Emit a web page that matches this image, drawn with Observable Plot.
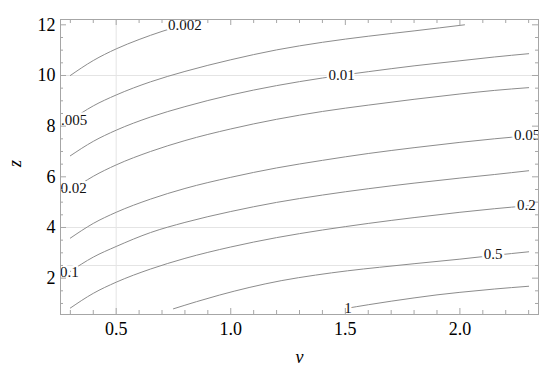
<!DOCTYPE html>
<html>
<head>
<meta charset="utf-8">
<script src="https://cdn.jsdelivr.net/npm/d3@7"></script>
<script src="https://cdn.jsdelivr.net/npm/@observablehq/plot@0.6"></script>
<style>
  html, body { margin: 0; padding: 0; background: #fff; }
  svg text { font-family: "Liberation Serif", "Times New Roman", serif !important; }
</style>
</head>
<body>
<div id="chart"></div>
<script>
// Contour levels
const levels = ["0.002", "0.005", "0.01", "0.02", "0.05", "0.1", "0.2", "0.5", "1"];

// Contour lines (ν, z)
const nu_0002 = [0.30, 0.40, 0.50, 0.60, 0.70, 0.79];
const z_0002  = [10.00, 10.59, 11.05, 11.42, 11.74, 11.99];

const nuGrid = [0.30, 0.40, 0.50, 0.65, 0.80, 1.00, 1.20, 1.40, 1.60, 1.80, 2.00, 2.15, 2.30];

const nu_0005 = [0.30, 0.40, 0.50, 0.65, 0.80, 1.00, 1.20, 1.40, 1.60, 1.80, 2.02];
const z_0005  = [8.23, 8.80, 9.23, 9.75, 10.16, 10.62, 11.01, 11.31, 11.55, 11.76, 12.00];

const z_001 = [6.83, 7.40, 7.84, 8.36, 8.77, 9.23, 9.60, 9.90, 10.15, 10.38, 10.58, 10.73, 10.86];
const z_002 = [5.44, 6.02, 6.47, 7.00, 7.43, 7.89, 8.27, 8.58, 8.83, 9.06, 9.27, 9.41, 9.52];
const z_005 = [3.58, 4.16, 4.60, 5.12, 5.54, 5.98, 6.35, 6.65, 6.92, 7.15, 7.36, 7.50, 7.62];
const z_01  = [2.27, 2.83, 3.25, 3.80, 4.20, 4.63, 4.99, 5.28, 5.53, 5.75, 5.95, 6.09, 6.24];
const z_02  = [0.82, 1.40, 1.84, 2.36, 2.78, 3.23, 3.60, 3.90, 4.16, 4.39, 4.60, 4.74, 4.86];

const nu_05 = [0.75, 0.85, 0.95, 1.08, 1.22, 1.37, 1.51, 1.65, 1.80, 2.00, 2.15, 2.30];
const z_05  = [0.79, 1.07, 1.33, 1.63, 1.90, 2.12, 2.29, 2.43, 2.57, 2.75, 2.90, 3.04];

const nu_1 = [1.50, 1.60, 1.70, 1.80, 1.90, 2.00, 2.15, 2.30];
const z_1  = [0.80, 0.95, 1.09, 1.22, 1.34, 1.44, 1.57, 1.68];

const contourNu = [nu_0002, nu_0005, nuGrid, nuGrid, nuGrid, nuGrid, nuGrid, nu_05, nu_1];
const contourZ  = [z_0002, z_0005, z_001, z_002, z_005, z_01, z_02, z_05, z_1];

// Contour label anchors (ν, z)
const labelNu = [0.80, 0.30, 1.484, 0.314, 2.293, 0.296, 2.29, 2.145, 1.512];
const labelZ  = [11.97, 8.22, 10.00, 5.54, 7.65, 2.22, 4.87, 2.93, 0.81];

// Axes
const xMajor = [0.5, 1.0, 1.5, 2.0];
const xMinor = [0.3, 0.4, 0.6, 0.7, 0.8, 0.9, 1.1, 1.2, 1.3, 1.4, 1.6, 1.7, 1.8, 1.9, 2.1, 2.2, 2.3];
const yMajor = [2, 4, 6, 8, 10, 12];
const yMinor = [1, 1.5, 2.5, 3, 3.5, 4.5, 5, 5.5, 6.5, 7, 7.5, 8.5, 9, 9.5, 10.5, 11, 11.5];
const gridNu = [0.5];
const gridZ = [2.5, 4, 10];

const rows = levels.flatMap((lev, i) =>
  contourNu[i].map((n, j) => ({nu: n, z: contourZ[i][j], level: lev})));
const labels = levels.map((lev, i) => ({nu: labelNu[i], z: labelZ[i], text: lev}));

const W = 550, H = 375, mL = 60, mR = 12, mT = 19, mB = 61;
const pW = W - mL - mR, pH = H - mT - mB;
const frameColor = "#a6a6a6";
const serif = "Liberation Serif";

const chart = Plot.plot({
  width: W, height: H,
  marginLeft: mL, marginRight: mR, marginTop: mT, marginBottom: mB,
  x: {domain: [0.257, 2.343], axis: null},
  y: {domain: [0.565, 12.21], axis: null},
  style: {fontFamily: serif, background: "white", overflow: "visible"},
  marks: [
    Plot.ruleY(gridZ, {y: d => d, stroke: "#e4e4e4", strokeWidth: 1}),
    Plot.ruleX(gridNu, {x: d => d, stroke: "#e4e4e4", strokeWidth: 1}),
    Plot.line(rows, {x: "nu", y: "z", z: "level", stroke: "#8c8c8c", strokeWidth: 1, curve: "monotone-x", clip: true}),
    Plot.text(labels, {x: "nu", y: "z", text: "text", fontSize: 15, fontFamily: serif, fill: "#111",
      stroke: "white", strokeWidth: 5, paintOrder: "stroke", clip: true}),
    // frame ticks (inward, all four sides)
    Plot.ruleX(xMajor, {x: d => d, insetTop: pH - 6, stroke: frameColor}),
    Plot.ruleX(xMinor, {x: d => d, insetTop: pH - 4, stroke: frameColor}),
    Plot.ruleX(xMajor, {x: d => d, insetBottom: pH - 6, stroke: frameColor}),
    Plot.ruleX(xMinor, {x: d => d, insetBottom: pH - 4, stroke: frameColor}),
    Plot.ruleY(yMajor, {y: d => d, insetRight: pW - 6, stroke: frameColor}),
    Plot.ruleY(yMinor, {y: d => d, insetRight: pW - 3, stroke: frameColor}),
    Plot.ruleY(yMajor, {y: d => d, insetLeft: pW - 6, stroke: frameColor}),
    Plot.ruleY(yMinor, {y: d => d, insetLeft: pW - 3, stroke: frameColor}),
    Plot.frame({stroke: frameColor, strokeWidth: 1}),
    // tick labels
    Plot.text(xMajor, {x: d => d, frameAnchor: "bottom", lineAnchor: "top", dy: 8,
      text: d => d3.format(".1f")(d), fontSize: 18, fontFamily: serif, fill: "#000"}),
    Plot.text(yMajor, {y: d => d, frameAnchor: "left", textAnchor: "end", dx: -5,
      text: d => String(d), fontSize: 18, fontFamily: serif, fill: "#000"}),
    // axis labels
    Plot.text(["ν"], {frameAnchor: "bottom", dy: 48, text: d => d, fontSize: 18, fontFamily: serif, fontStyle: "italic", fill: "#000"}),
    Plot.text(["z"], {frameAnchor: "left", dx: -45, rotate: -90, text: d => d, fontSize: 18, fontFamily: serif, fontStyle: "italic", fill: "#000"})
  ]
});
document.getElementById("chart").appendChild(chart);
</script>
</body>
</html>
